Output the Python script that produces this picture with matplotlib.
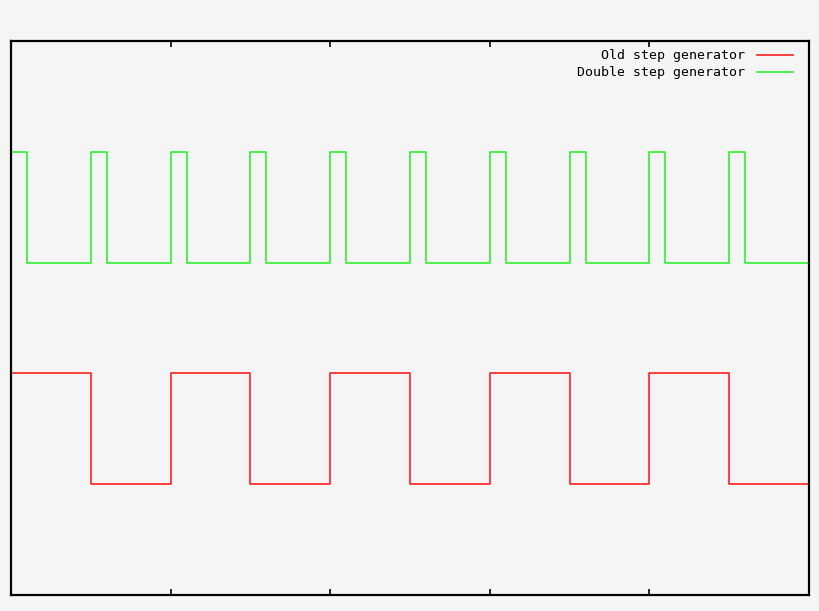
import matplotlib
matplotlib.use("Agg")
import matplotlib.pyplot as plt

# Data
old_t = [0, 1, 2, 3, 4, 5, 6, 7, 8, 9, 10]
old_v = [1, 0, 1, 0, 1, 0, 1, 0, 1, 0, 0]

dbl_t = [0, 0.2, 1, 1.2, 2, 2.2, 3, 3.2, 4, 4.2, 5, 5.2, 6, 6.2, 7, 7.2, 8, 8.2, 9, 9.2, 10]
dbl_v = [3, 2, 3, 2, 3, 2, 3, 2, 3, 2, 3, 2, 3, 2, 3, 2, 3, 2, 3, 2, 2]

labels = ["Old step generator", "Double step generator"]
x_ticks = [2, 4, 6, 8]

bg = "#f5f5f5"
fig = plt.figure(figsize=(8.2, 6.11), dpi=100, facecolor=bg)
ax = fig.add_axes([11/820, (611-595)/611, (809-11)/820, (595-41)/611])
ax.set_facecolor(bg)

ax.step(old_t, old_v, where="post", color="#ff2020", lw=1.2, label=labels[0])
ax.step(dbl_t, dbl_v, where="post", color="#30f030", lw=1.2, label=labels[1])

ax.set_xlim(0, 10)
ax.set_ylim(-1, 4)
ax.set_xticks(x_ticks)
ax.set_xticklabels([])
ax.set_yticks([])
ax.tick_params(axis="x", direction="in", length=4, width=1.2, top=True, bottom=True, color="black")
for s in ax.spines.values():
    s.set_linewidth(1.6)
    s.set_color("black")

leg = ax.legend(loc="upper right", bbox_to_anchor=(0.980, 0.985), frameon=False, markerfirst=False,
                prop={"family": "DejaVu Sans Mono", "size": 9.5},
                handlelength=2.75, handletextpad=0.9, labelspacing=0.3,
                borderaxespad=0.0, borderpad=0.0)

fig.savefig("out.png", dpi=100, facecolor=bg)
